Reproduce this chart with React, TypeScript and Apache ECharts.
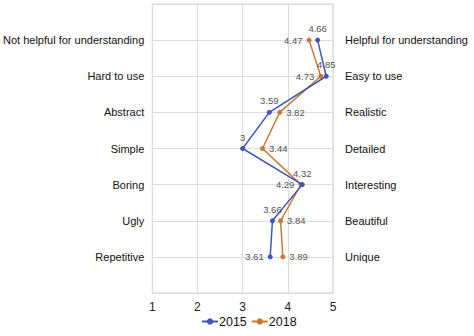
import React, { useEffect, useRef } from "react";
import * as echarts from "echarts";

const leftLabels = [
  "Not helpful for understanding",
  "Hard to use",
  "Abstract",
  "Simple",
  "Boring",
  "Ugly",
  "Repetitive",
];
const rightLabels = [
  "Helpful for understanding",
  "Easy to use",
  "Realistic",
  "Detailed",
  "Interesting",
  "Beautiful",
  "Unique",
];
const values2015 = [4.66, 4.85, 3.59, 3.0, 4.32, 3.66, 3.61];
const values2018 = [4.47, 4.73, 3.82, 3.44, 4.29, 3.84, 3.89];
const pos2015 = ["top", "top", "top", "top", "top", "top", "left"];
const pos2018 = ["left", "left", "right", "right", "left", "right", "right"];

export default function App() {
  const ref = useRef<HTMLDivElement>(null);
  useEffect(() => {
    if (!ref.current) return;
    const chart = echarts.init(ref.current, undefined, { renderer: "svg" });
    const labelStyle = { color: "#555", fontSize: 9.5, fontFamily: "Arial" };
    const mk = (vals: number[], pos: string[]) =>
      vals.map((v, i) => ({
        value: [v, i + 1],
        label: { show: true, position: pos[i], distance: 4, formatter: String(v), ...labelStyle },
      }));
    const yLabel = (arr: string[]) => (v: number) => (v >= 1 && v <= arr.length ? arr[v - 1] : "");
    chart.setOption({
      animation: false,
      grid: { left: 150, right: 141, top: 4, bottom: 43, show: true, borderColor: "#d4d4d4", borderWidth: 1 },
      xAxis: {
        type: "value",
        min: 1,
        max: 5,
        interval: 1,
        axisLine: { show: false },
        axisTick: { show: false },
        splitLine: { lineStyle: { color: "#dcdcdc" } },
        axisLabel: { color: "#222", fontSize: 12, fontFamily: "Arial", margin: 8 },
      },
      yAxis: [
        {
          type: "value",
          min: 0,
          max: 8,
          interval: 1,
          inverse: true,
          position: "left",
          axisLine: { show: false },
          axisTick: { show: false },
          splitLine: { lineStyle: { color: "#dcdcdc" } },
          axisLabel: { formatter: yLabel(leftLabels), color: "#111", fontSize: 11, fontFamily: "Arial", margin: 8 },
        },
        {
          type: "value",
          min: 0,
          max: 8,
          interval: 1,
          inverse: true,
          position: "right",
          axisLine: { show: false },
          axisTick: { show: false },
          splitLine: { show: false },
          axisLabel: { formatter: yLabel(rightLabels), color: "#111", fontSize: 11, fontFamily: "Arial", margin: 12 },
        },
      ],
      legend: {
        bottom: 3,
        left: 196,
        itemWidth: 16,
        itemHeight: 8,
        itemGap: 4,
        textStyle: { color: "#111", fontSize: 12.5, fontFamily: "Arial", padding: [0, 0, 0, -4] },
      },
      series: [
        {
          name: "2015",
          type: "line",
          data: mk(values2015, pos2015),
          symbol: "circle",
          symbolSize: 5,
          color: "#4256b4",
          lineStyle: { width: 1.5 },
          z: 3,
        },
        {
          name: "2018",
          type: "line",
          data: mk(values2018, pos2018),
          symbol: "circle",
          symbolSize: 5,
          color: "#c87a34",
          lineStyle: { width: 1.5 },
          z: 2,
        },
      ],
    });
    return () => chart.dispose();
  }, []);
  return <div ref={ref} style={{ width: 474, height: 336, position: "absolute", left: 0, top: 0 }} />;
}
